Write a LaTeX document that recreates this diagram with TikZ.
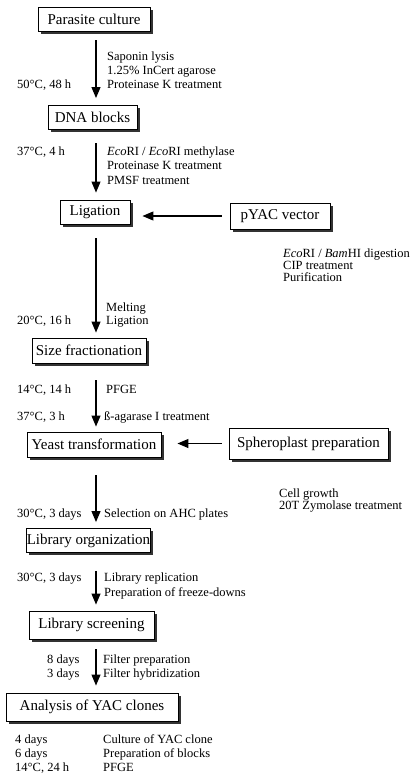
\documentclass[tikz,border=0pt]{standalone}
\usepackage{fontspec}
\setmainfont{Liberation Serif}
\usetikzlibrary{arrows.meta,shadows}
\begin{document}
\begin{tikzpicture}[x=1pt,y=-1pt,
  stepbox/.style={draw, line width=0.9pt, fill=white, inner sep=0pt,
    font=\fontsize{15}{18}\selectfont,
    drop shadow={shadow xshift=2.5pt, shadow yshift=-2.5pt, fill=black!80, opacity=1}},
  note/.style={anchor=base west, inner sep=0pt, font=\fontsize{12.5}{14}\selectfont},
  arr/.style={line width=1.1pt, -{Triangle[length=11pt,width=9pt]}}]
\useasboundingbox (0,0) rectangle (418,779);
\fill[white] (0,0) rectangle (418,779);

% boxes
\node[stepbox, minimum width=112pt, minimum height=24pt] (pc) at (94,19) {Parasite culture};
\node[stepbox, minimum width=89pt, minimum height=24pt] (dna) at (92.5,117.5) {DNA blocks};
\node[stepbox, minimum width=70pt, minimum height=24pt] (lig) at (95,212) {Ligation};
\node[stepbox, minimum width=100pt, minimum height=26pt] (pyac) at (280,216) {pYAC vector};
\node[stepbox, minimum width=114pt, minimum height=25pt] (size) at (89,350.5) {Size fractionation};
\node[stepbox, minimum width=134pt, minimum height=25pt] (yeast) at (94,444.5) {Yeast transformation};
\node[stepbox, minimum width=159pt, minimum height=31pt] (sph) at (308.5,443.5) {Spheroplast preparation};
\node[stepbox, minimum width=115pt, minimum height=24pt] (lorg) at (88.5,540.5) {Library organization};
\node[stepbox, minimum width=125pt, minimum height=28pt] (lscr) at (91.5,625) {Library screening};
\node[stepbox, minimum width=172pt, minimum height=28pt] (ana) at (92,707) {Analysis of YAC clones};

% arrows
\coordinate (ax) at (96,0);
\draw[arr, shorten <=9pt, shorten >=7pt] (pc.south -| ax) -- (dna.north -| ax);
\draw[arr, shorten <=13.5pt, shorten >=7pt] (dna.south -| ax) -- (lig.north -| ax);
\draw[arr, shorten <=14pt, shorten >=5pt] (lig.south -| ax) -- (size.north -| ax);
\draw[arr, shorten <=17pt, shorten >=5pt] (size.south -| ax) -- (yeast.north -| ax);
\draw[arr, shorten <=18pt, shorten >=6pt] (yeast.south -| ax) -- (lorg.north -| ax);
\draw[arr, shorten <=18pt, shorten >=6pt] (lorg.south -| ax) -- (lscr.north -| ax);
\draw[arr, shorten <=10pt, shorten >=7pt] (lscr.south -| ax) -- (ana.north -| ax);
\draw[arr, shorten <=8pt, shorten >=12pt] (pyac.west) -- (pyac.west -| lig.east);
\draw[arr, shorten <=7pt, shorten >=16pt] (sph.west) -- (sph.west -| yeast.east);

% annotations
\node[note] (t1) at (107,60) {Saponin lysis};
\node[note] (t2) at (107,74) {1.25\% InCert agarose};
\node[note] (t3) at (107,88) {Proteinase K treatment};
\node[note] (l1) at (17,88) {50°C, 48 h};

\node[note] (l2) at (17,155) {37°C, 4 h};
\node[note] (t4) at (107,155) {\textit{Eco}RI / \textit{Eco}RI methylase};
\node[note] (t5) at (107,169) {Proteinase K treatment};
\node[note] (t6) at (107,184) {PMSF treatment};

\node[note] (v1) at (283,257) {\textit{Eco}RI / \textit{Bam}HI digestion};
\node[note] (v2) at (283,269) {CIP treatment};
\node[note] (v3) at (283,281) {Purification};

\node[note] (t7) at (106,311) {Melting};
\node[note] (t8) at (106,324) {Ligation};
\node[note] (l3) at (17,324) {20°C, 16 h};

\node[note] (l4) at (17,393) {14°C, 14 h};
\node[note] (t9) at (106,393) {PFGE};
\node[note] (l5) at (17,420) {37°C, 3 h};
\node[note] (t10) at (104,420) {ß-agarase I treatment};

\node[note] (s1) at (279,497.5) {Cell growth};
\node[note] (s2) at (279,509.5) {20T Zymolase treatment};

\node[note] (l6) at (17,517) {30°C, 3 days};
\node[note] (t11) at (104,517) {Selection on AHC plates};

\node[note] (l7) at (17,581) {30°C, 3 days};
\node[note] (t12) at (104,581) {Library replication};
\node[note] (t13) at (104,596) {Preparation of freeze-downs};

\node[note] (l8) at (47,663) {8 days};
\node[note] (t14) at (103,663) {Filter preparation};
\node[note] (l9) at (47,677) {3 days};
\node[note] (t15) at (103,677) {Filter hybridization};

\node[note] (b1) at (15,743) {4 days};
\node[note] (b2) at (103,743) {Culture of YAC clone};
\node[note] (b3) at (15,757) {6 days};
\node[note] (b4) at (103,757) {Preparation of blocks};
\node[note] (b5) at (15,771) {14°C, 24 h};
\node[note] (b6) at (103,771) {PFGE};
\end{tikzpicture}
\end{document}
